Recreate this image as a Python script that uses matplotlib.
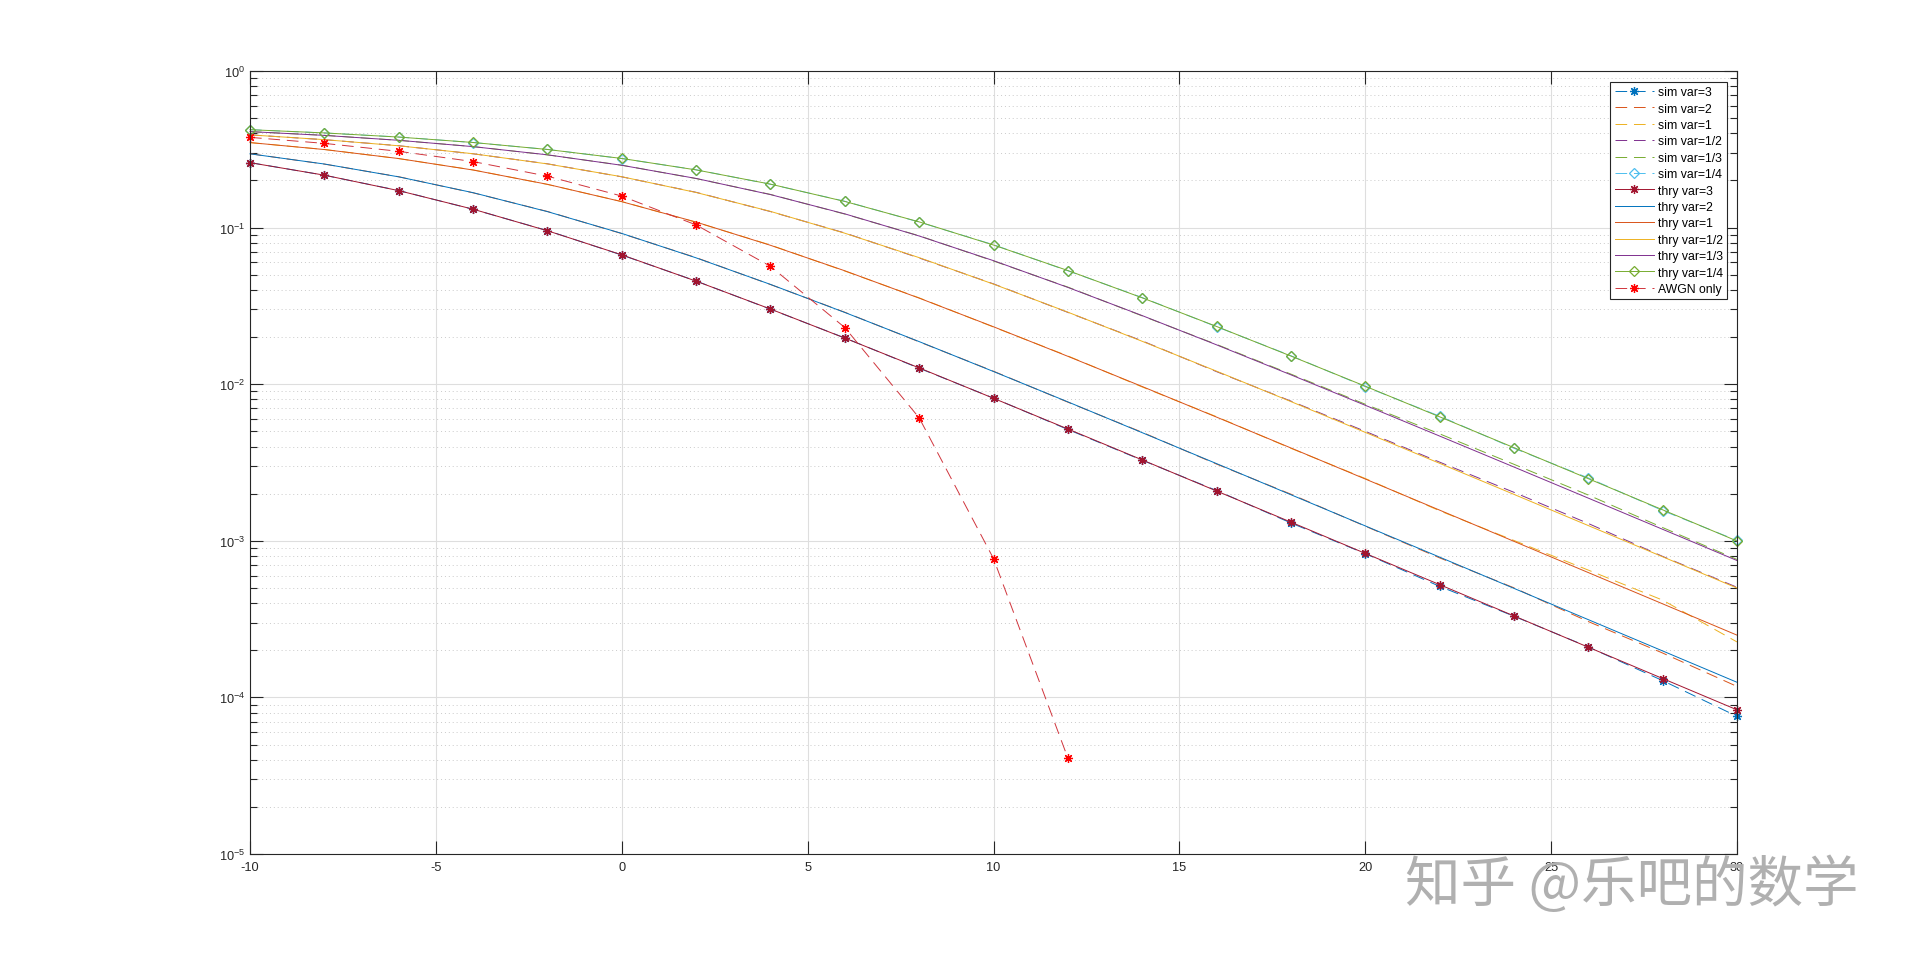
import numpy as np
import matplotlib
matplotlib.use('Agg')
import matplotlib.pyplot as plt

# SNR axis (dB)
snr = [-10, -8, -6, -4, -2, 0, 2, 4, 6, 8, 10, 12, 14, 16, 18, 20, 22, 24, 26, 28, 30]
snr_awgn = [-10, -8, -6, -4, -2, 0, 2, 4, 6, 8, 10, 12]

# simulated BER, one list per channel variance
sim_v3 = [0.2601, 0.2160, 0.1725, 0.1309, 0.0957, 0.0668, 0.04560, 0.03012, 0.01975, 0.01265, 0.00815,
          0.00514, 0.003270, 0.002095, 0.001300, 0.000828, 0.000512, 0.000330, 0.000210, 0.000128, 0.0000757]
sim_v2 = [0.2962, 0.2544, 0.2112, 0.1668, 0.1268, 0.0916, 0.0643, 0.04330, 0.02880, 0.01865, 0.01210,
          0.00768, 0.00493, 0.003090, 0.001985, 0.001240, 0.000778, 0.000501, 0.000305, 0.000192, 0.0001175]
sim_v1 = [0.3489, 0.3155, 0.2757, 0.2336, 0.1887, 0.1467, 0.1082, 0.0774, 0.0528, 0.03560, 0.02318,
          0.01515, 0.00960, 0.00620, 0.003895, 0.00250, 0.001555, 0.001005, 0.000650, 0.000418, 0.000226]
sim_v12 = [0.3912, 0.3642, 0.3334, 0.2960, 0.2555, 0.2110, 0.1680, 0.1266, 0.0924, 0.0640, 0.04370,
           0.02875, 0.01890, 0.01203, 0.00780, 0.00500, 0.003180, 0.00204, 0.001290, 0.000795, 0.000505]
sim_v13 = [0.4099, 0.3884, 0.3607, 0.3292, 0.2913, 0.2503, 0.2057, 0.1629, 0.1220, 0.0887, 0.0612,
           0.04170, 0.02730, 0.01795, 0.01160, 0.00745, 0.00482, 0.003080, 0.001960, 0.001215, 0.000760]
sim_v14 = [0.4222, 0.4020, 0.3789, 0.3492, 0.3158, 0.2760, 0.2340, 0.1891, 0.1473, 0.1085, 0.0777,
           0.0530, 0.03575, 0.02330, 0.01520, 0.00965, 0.00625, 0.003900, 0.00252, 0.001560, 0.001005]

# theoretical BER
thry_v3 = [0.2598, 0.2162, 0.1722, 0.1311, 0.0955, 0.0670, 0.04551, 0.03020, 0.01970, 0.01271, 0.008131,
           0.005176, 0.003285, 0.002080, 0.001316, 0.0008312, 0.0005250, 0.0003314, 0.0002092, 0.0001320, 0.0000833]
thry_v2 = [0.2959, 0.2547, 0.2109, 0.1671, 0.1265, 0.0918, 0.0641, 0.04338, 0.02872, 0.01871, 0.01205,
           0.007711, 0.004903, 0.003111, 0.001969, 0.001245, 0.0007868, 0.0004969, 0.0003137, 0.0001980, 0.0001249]
thry_v1 = [0.3492, 0.3151, 0.2760, 0.2332, 0.1890, 0.1464, 0.1085, 0.0771, 0.0530, 0.03546, 0.02327,
           0.01507, 0.009665, 0.006164, 0.003916, 0.002481, 0.001570, 0.0009923, 0.0006268, 0.0003958, 0.0002498]
thry_v12 = [0.3909, 0.3645, 0.3330, 0.2963, 0.2551, 0.2113, 0.1676, 0.1269, 0.0921, 0.0643, 0.04356,
            0.02884, 0.01879, 0.01211, 0.007747, 0.004926, 0.003125, 0.001979, 0.001251, 0.0007906, 0.0004993]
thry_v13 = [0.4102, 0.3880, 0.3610, 0.3289, 0.2916, 0.2500, 0.2060, 0.1625, 0.1224, 0.0884, 0.0615,
            0.04151, 0.02742, 0.01784, 0.01148, 0.007335, 0.004666, 0.002959, 0.001873, 0.001184, 0.0007483]
thry_v14 = [0.4219, 0.4024, 0.3785, 0.3496, 0.3154, 0.2764, 0.2336, 0.1895, 0.1469, 0.1088, 0.0774,
            0.0532, 0.03561, 0.02337, 0.01513, 0.009710, 0.006193, 0.003934, 0.002493, 0.001577, 0.000997]

# AWGN only
awgn = [0.377, 0.345, 0.307, 0.264, 0.213, 0.159, 0.104, 0.0566, 0.0230, 0.0061, 0.00077, 0.000041]

# matlab default colours
C_BLUE = '#0072BD'
C_ORANGE = '#D95319'
C_YELLOW = '#EDB120'
C_PURPLE = '#7E2F8E'
C_GREEN = '#77AC30'
C_CYAN = '#4DBEEE'
C_DRED = '#A2142F'

plt.rcParams['font.family'] = ['Liberation Sans', 'DejaVu Sans']
plt.rcParams['mathtext.default'] = 'regular'
plt.rcParams['axes.unicode_minus'] = False

fig = plt.figure(figsize=(19.2, 9.62), dpi=100)
ax = fig.add_axes([250 / 1920, 1 - 855 / 962, 1487 / 1920, 783 / 962])

LW = 0.7
DASH = (12, 7)
STAR = (8, 2, 0)   # asterisk like matlab '*'
MS = 6.5

# simulated curves first (dashed)
ax.plot(snr, sim_v3, '--', color=C_BLUE, lw=LW, dashes=DASH, marker=STAR, ms=MS, mew=0.9, label='sim var=3')
ax.plot(snr, sim_v2, '--', color=C_ORANGE, lw=LW, dashes=DASH, label='sim var=2')
ax.plot(snr, sim_v1, '--', color=C_YELLOW, lw=LW, dashes=DASH, label='sim var=1')
ax.plot(snr, sim_v12, '--', color=C_PURPLE, lw=LW, dashes=DASH, label='sim var=1/2')
ax.plot(snr, sim_v13, '--', color=C_GREEN, lw=LW, dashes=DASH, label='sim var=1/3')
ax.plot(snr, sim_v14, '--', color=C_CYAN, lw=LW, dashes=DASH, marker='D', ms=5, mfc='none', mew=0.9,
        label='sim var=1/4')

# theory curves (solid)
ax.plot(snr, thry_v3, '-', color=C_DRED, lw=LW, marker=STAR, ms=MS, mew=0.9, label='thry var=3')
ax.plot(snr, thry_v2, '-', color=C_BLUE, lw=LW, label='thry var=2')
ax.plot(snr, thry_v1, '-', color=C_ORANGE, lw=LW, label='thry var=1')
ax.plot(snr, thry_v12, '-', color=C_YELLOW, lw=LW, label='thry var=1/2')
ax.plot(snr, thry_v13, '-', color=C_PURPLE, lw=LW, label='thry var=1/3')
ax.plot(snr, thry_v14, '-', color=C_GREEN, lw=LW, marker='D', ms=5, mfc='none', mew=0.9, label='thry var=1/4')

ax.plot(snr_awgn, awgn, '--', color='#d0343c', lw=LW, dashes=DASH, marker=STAR, ms=MS, mew=0.9,
        mec='red', label='AWGN only')

for ln in ax.lines:
    ln.set_clip_on(False)

ax.set_yscale('log')
ax.set_xlim(-10, 30)
ax.set_ylim(1e-5, 1)
ax.set_xticks(np.arange(-10, 31, 5))

# grid like matlab: solid major, dotted minor (y only)
ax.set_axisbelow(True)
ax.grid(True, which='major', axis='both', color='#dedede', lw=0.8, ls='-')
ax.grid(True, which='minor', axis='y', color='#cacaca', lw=0.7, ls=(0, (1, 3)))

ax.tick_params(which='both', direction='in', top=True, right=True, colors='#262626',
               labelsize=9.2, width=0.8)
ax.tick_params(which='major', length=9.5)
ax.tick_params(which='minor', length=4.7)
ax.tick_params(axis='x', pad=5)
ax.tick_params(axis='y', pad=3.5)
ax.tick_params(axis='x', which='minor', bottom=False, top=False)
for sp in ax.spines.values():
    sp.set_color('#262626')
    sp.set_linewidth(0.8)

leg = ax.legend(loc='upper right', bbox_to_anchor=(1 - 10 / 1487, 1 - 11 / 783), borderaxespad=0,
                fontsize=8.8, labelspacing=0.36, handlelength=3.2, handletextpad=0.33,
                borderpad=0.35, numpoints=1, fancybox=False, framealpha=1)
leg.get_frame().set_edgecolor('#262626')
leg.get_frame().set_linewidth(0.8)

# watermark
fig.text(1405 / 1920, 1 - 886 / 962, '知乎 @乐吧的数学', fontsize=40, color='#b0b0b0',
         family=['Noto Sans CJK SC', 'DejaVu Sans'], ha='left', va='center')

fig.savefig('out.png', dpi=100, facecolor='white')
